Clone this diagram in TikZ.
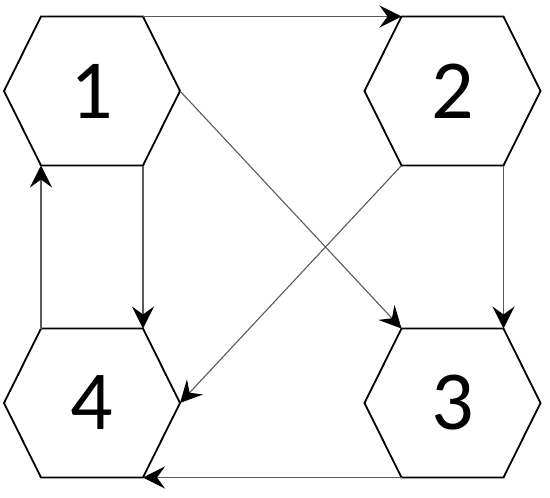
\documentclass[tikz,border=0pt]{standalone}
\usepackage{fontspec}
\setmainfont{Carlito}
\usetikzlibrary{arrows.meta}

\tikzset{
    hexline/.style={line width=1.8pt, line join=miter},
    link/.style={line width=1.1pt, draw=black!65, -{Stealth[length=22pt, width=22pt, inset=8pt, black]}},
    digit/.style={font=\fontsize{84}{84}\selectfont, inner sep=0pt}
}

% hexagon: name, centre x, centre y, label
\newcommand{\hexa}[4]{%
    \coordinate (#1-tl) at (#2-51,#3-74.5);
    \coordinate (#1-tr) at (#2+51,#3-74.5);
    \coordinate (#1-r) at (#2+88,#3);
    \coordinate (#1-br) at (#2+51,#3+74.5);
    \coordinate (#1-bl) at (#2-51,#3+74.5);
    \coordinate (#1-l) at (#2-88,#3);
    \draw[hexline] (#1-tl) -- (#1-tr) -- (#1-r) -- (#1-br) -- (#1-bl) -- (#1-l) -- cycle;
    \node[digit] (#1) at (#2,#3) {#4};
}

\begin{document}
\begin{tikzpicture}[x=1pt, y=-1pt]
    \useasboundingbox (0,0) rectangle (550,498);

    \def\xl{92}
    \def\xr{452.5}
    \def\yt{91}
    \def\yb{403}

    \hexa{one}{\xl}{\yt}{1}
    \hexa{two}{\xr}{\yt}{2}
    \hexa{three}{\xr}{\yb}{3}
    \hexa{four}{\xl}{\yb}{4}

    \draw[link] (one-tr) -- (two-tl);
    \draw[link] (one-r) -- (three-tl);
    \draw[link] (two-bl) -- (four-r);
    \draw[link] (two-br) -- (three-tr);
    \draw[link] (one-br) -- (four-tr);
    \draw[link] (four-tl) -- (one-bl);
    \draw[link] (three-bl) -- (four-br);
\end{tikzpicture}
\end{document}
